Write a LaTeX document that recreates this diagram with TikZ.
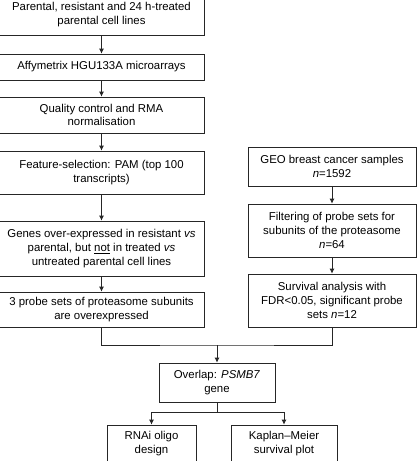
\documentclass[tikz,border=0pt]{standalone}
\usepackage{fontspec}
\setmainfont{Liberation Sans}
\usepackage{tikz}
\usetikzlibrary{arrows.meta, positioning}
\tikzstyle{box} = [rectangle, draw=black!85, line width=0.75pt, align=center,
font=\fontsize{11.4}{13.8}\selectfont, inner sep=2pt]
\tikzstyle{line} = [draw=black!85, line width=0.75pt, -{Latex[length=5pt,width=5pt]}]
\begin{document}
\begin{tikzpicture}[x=1pt, y=-1pt]
	\useasboundingbox (0,0) rectangle (417,461);
	\clip (0,0) rectangle (417,461);
	% Place nodes: left column
	\node [box, minimum width=205pt, minimum height=41pt] (lines) at (101.5,14.5)
		{Parental, resistant and 24 h-treated\\parental cell lines};
	\node [box, minimum width=205pt, minimum height=26pt] (arrays) at (101.5,67)
		{Affymetrix HGU133A microarrays};
	\node [box, minimum width=205pt, minimum height=36pt] (rma) at (101.5,115)
		{Quality control and RMA\\normalisation};
	\node [box, minimum width=205pt, minimum height=43pt] (pam) at (101.5,172.5)
		{Feature-selection: PAM (top 100\\transcripts)};
	\node [box, minimum width=205pt, minimum height=55pt] (genes) at (101.5,248.5)
		{Genes over-expressed in resistant \textit{vs}\\parental, but \underline{not} in treated \textit{vs}\\untreated parental cell lines};
	\node [box, minimum width=205pt, minimum height=35pt] (subunits) at (101.5,309.5)
		{3 probe sets of proteasome subunits\\are overexpressed};
	% right column
	\node [box, minimum width=168pt, minimum height=39pt] (geo) at (332,166.5)
		{GEO breast cancer samples\\\textit{n}=1592};
	\node [box, minimum width=168pt, minimum height=53pt] (filter) at (332,230.5)
		{Filtering of probe sets for\\subunits of the proteasome\\\textit{n}=64};
	\node [box, minimum width=168pt, minimum height=53pt] (survival) at (332,300.5)
		{Survival analysis with\\FDR<0.05, significant probe\\sets \textit{n}=12};
	% bottom
	\node [box, minimum width=116pt, minimum height=39pt] (overlap) at (217,382.5)
		{Overlap: \textit{PSMB7}\\gene};
	\node [box, minimum width=89pt, minimum height=45pt, text depth=10pt] (rnai) at (151.5,447.5)
		{RNAi oligo\\design};
	\node [box, minimum width=106pt, minimum height=45pt, text depth=10pt] (km) at (284,447.5)
		{Kaplan--Meier\\survival plot};
	\coordinate (merge) at (217,345);
	\coordinate (split) at (217,412);
	%
	\path [line] (lines) -- (arrays);
	\path [line] (arrays) -- (rma);
	\path [line] (rma) -- (pam);
	\path [line] (pam) -- (genes);
	\path [line] (genes) -- (subunits);
	\path [line] (geo) -- (filter);
	\path [line] (filter) -- (survival);
	\draw [black!85, line width=0.75pt] (subunits.south) |- (merge) -| (survival.south);
	\path [line] (merge) -- (overlap);
	\draw [black!85, line width=0.75pt] (overlap.south) -- (split);
	\path [line] (split) -| (rnai.north);
	\path [line] (split) -| (km.north);
\end{tikzpicture}
\end{document}
